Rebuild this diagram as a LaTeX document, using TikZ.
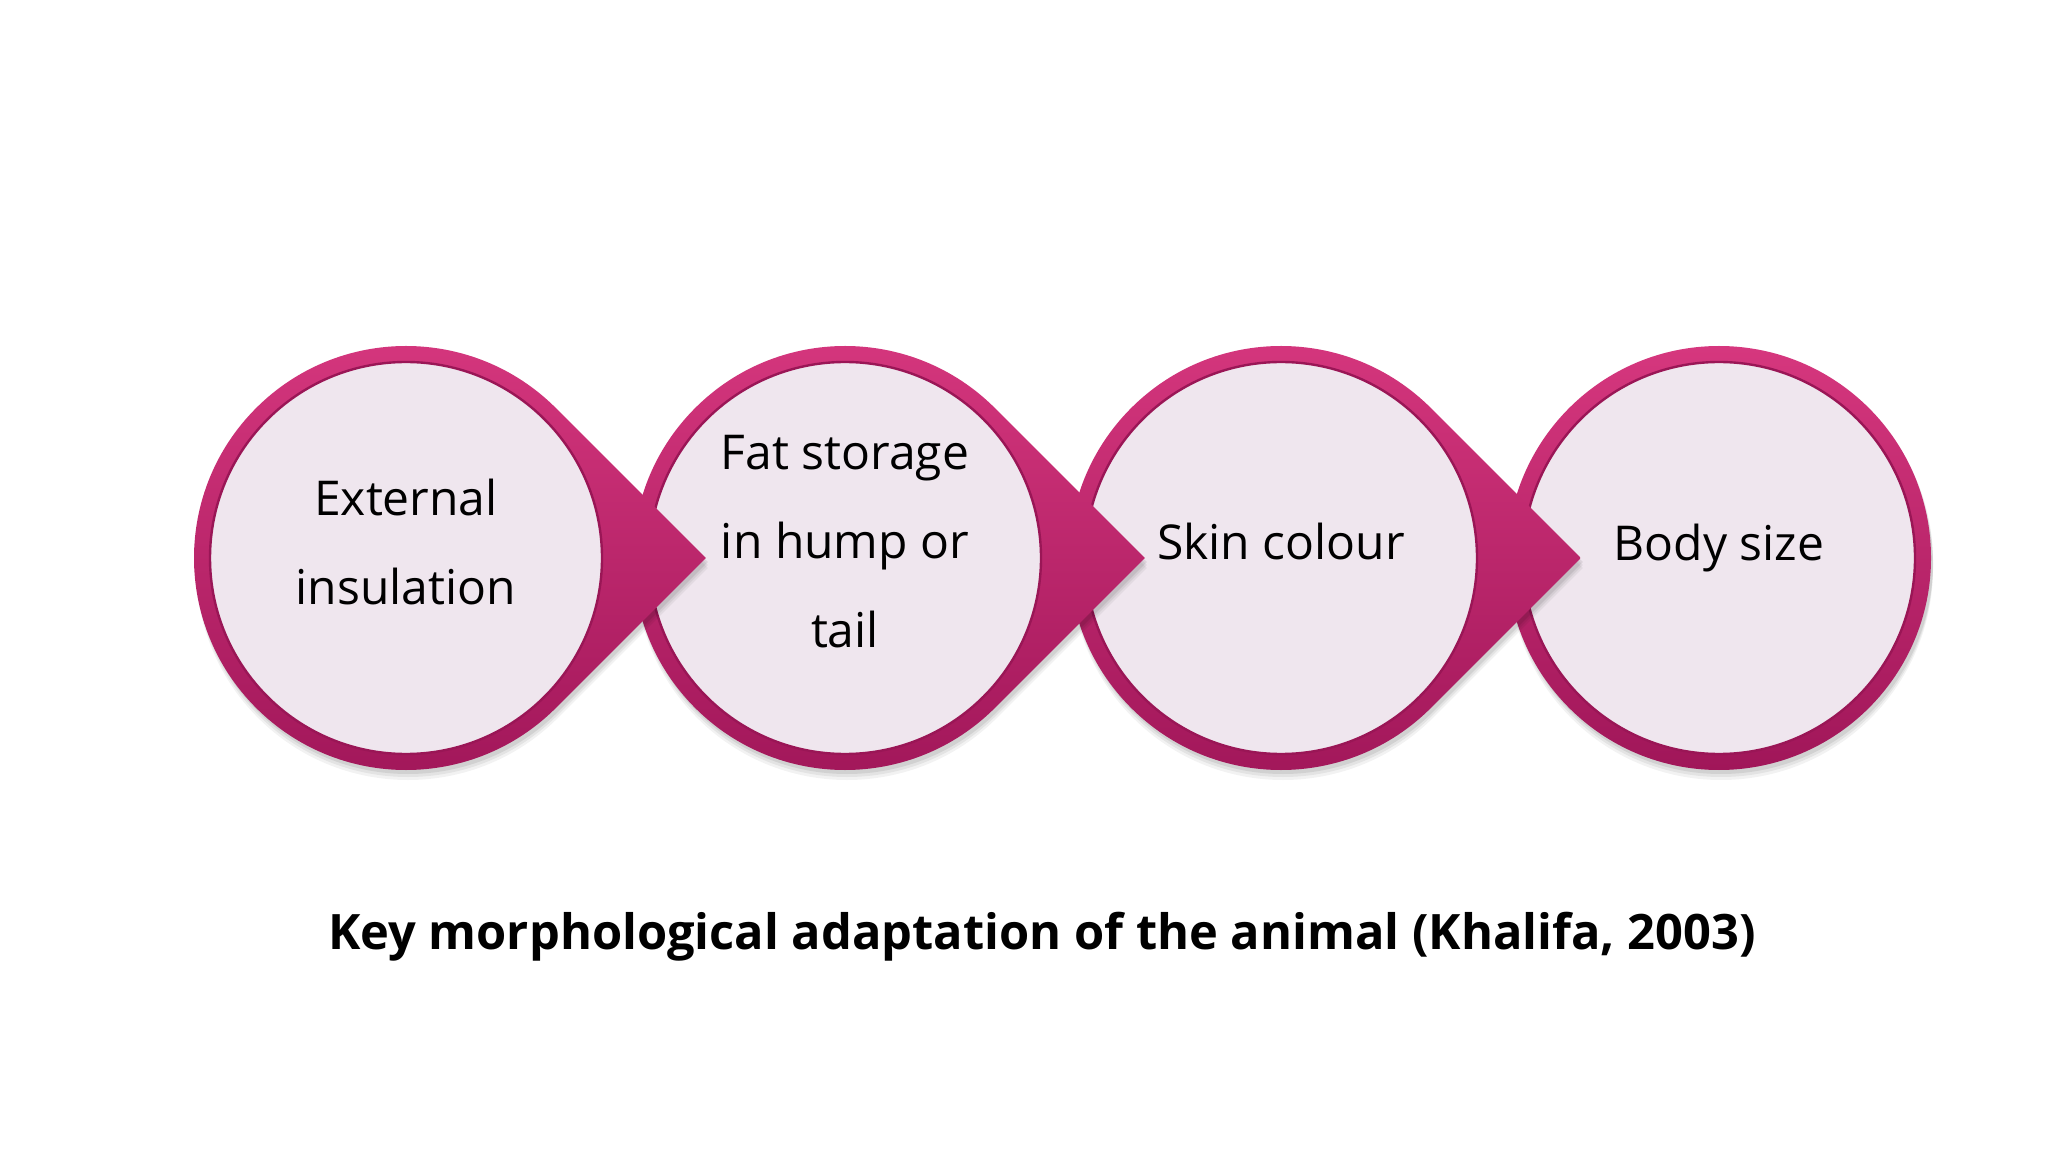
\documentclass[tikz,border=0pt]{standalone}
\usepackage{fontspec}
\setmainfont{Open Sans}
\usetikzlibrary{calc}
\definecolor{ringtop}{HTML}{D6377E}
\definecolor{ringbot}{HTML}{A01659}
\definecolor{innerfill}{HTML}{EFE6EE}
\definecolor{inneredge}{HTML}{9A1656}
\tikzset{
  label text/.style={align=center, text=black, font=\fontsize{24}{44.5}\selectfont},
  caption text/.style={text=black, font=\bfseries\fontsize{24.4}{28}\selectfont}
}
\begin{document}
\begin{tikzpicture}[x=0.5pt,y=0.5pt]
\useasboundingbox (0,0) rectangle (2048,1152);
\fill[white] (0,0) rectangle (2048,1152);
% shapes, drawn right to left so each tip lies over the next circle
\foreach \cx/\arr in {1719/0,1281/1,845/1,406/1}{
  \coordinate (o) at (\cx,594);
  \ifnum\arr=1
    \foreach \s/\op in {10/0.05,7/0.06,4/0.08}{
      \fill[black,opacity=\op] ($(o)+(2,-\s)+(45:106pt)$) arc[start angle=45,end angle=315,radius=106pt] -- ($(o)+(2,-\s)+(149.9pt,0)$) -- cycle;
    }
    \shade[top color=ringtop,bottom color=ringbot] ($(o)+(45:106pt)$) arc[start angle=45,end angle=315,radius=106pt] -- ($(o)+(149.9pt,0)$) -- cycle;
  \else
    \foreach \s/\op in {10/0.05,7/0.06,4/0.08}{
      \fill[black,opacity=\op] ($(o)+(2,-\s)$) circle[radius=106pt];
    }
    \shade[top color=ringtop,bottom color=ringbot] (o) circle[radius=106pt];
  \fi
  \draw[inneredge, line width=1.2pt, fill=innerfill] (o) circle[radius=98pt];
}
\node[label text] (c1) at (406,610) {External\\insulation};
\node[label text] (c2) at (845,610) {Fat storage\\in hump or\\tail};
\node[label text] (c3) at (1281,610) {Skin colour};
\node[label text] (c4) at (1719,604) {Body size};
\node[caption text] (cap) at (1042,215) {Key morphological adaptation of the animal (Khalifa, 2003)};
\end{tikzpicture}
\end{document}
